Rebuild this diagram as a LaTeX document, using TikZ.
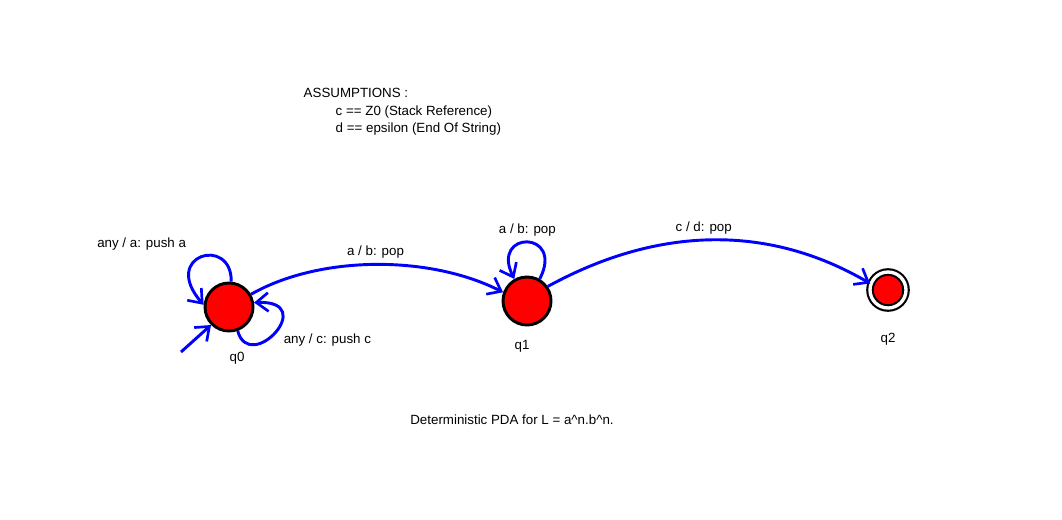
\documentclass[tikz,border=0pt]{standalone}
\usepackage{fontspec}
\setmainfont{Liberation Sans}
\usetikzlibrary{arrows.meta}
\tikzset{
    x=0.75pt, y=-0.75pt,
    every node/.style={font=\fontsize{10}{12}\selectfont},
    state/.style={draw=black, line width=2.2pt, fill=red, circle, minimum size=36pt, inner sep=0pt},
    final/.style={state, double=white, double distance=2.5pt, minimum size=27pt, line width=1.6pt},
    edge/.style={draw=blue, line width=2.2pt, -{Straight Barb[length=9pt,width=14pt,line width=2pt]}},
}
\begin{document}
\begin{tikzpicture}
\useasboundingbox (0,0) rectangle (1062,520);
\node[state] (q0) at (229,307) {};
\node[state] (q1) at (527,301) {};
\node[final] (q2) at (888,290) {};
\coordinate (start) at (181,352);

\node at (237,358) {q0};
\node at (522,346) {q1};
\node at (888,339) {q2};

\draw[edge] (start) -- (q0.225);
\draw[edge] (q0.85) .. controls (232,235) and (160,255) .. (q0.175)
    node[pos=0.45, above left, xshift=-10pt] {any / a: push a};
\draw[edge] (q0.290) .. controls (250,375) and (320,300) .. (q0.10)
    node[pos=0.5, right, xshift=2pt, yshift=-6pt] {any / c: push c};
\draw[edge] (q0.30) .. controls (320,255) and (430,255) .. (q1.160)
    node[midway, above] {a / b: pop};
\draw[edge] (q1.60) .. controls (565,230) and (490,230) .. (q1.120)
    node[midway, above] {a / b: pop};
\draw[edge] (q1.35) .. controls (660,225) and (770,225) .. (q2.160)
    node[pos=0.47, above] {c / d: pop};

\node[anchor=west] (asm) at (299,93) {ASSUMPTIONS :};
\node[anchor=west] (c1) at (331,112) {c == Z0 (Stack Reference)};
\node[anchor=west] (c2) at (331,129) {d == epsilon (End Of String)};
\node (cap) at (512,420) {Deterministic PDA for L = a\^{}n.b\^{}n.};
\end{tikzpicture}
\end{document}
